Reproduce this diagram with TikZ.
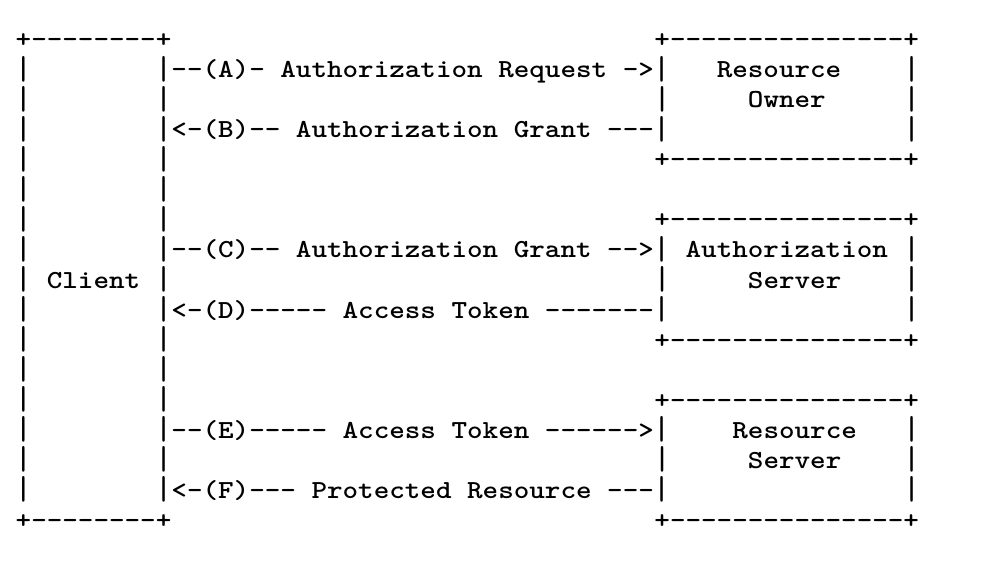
\documentclass[tikz,border=0pt]{standalone}
\usepackage{graphicx}
\usepackage{fontspec}
\newfontfamily\asciimono{lmmonolt10-bold.otf}[FakeStretch=1.14]
\newcommand\vbar{\raisebox{-1.5pt}{\scalebox{1}[1.28]{|}}}
\tikzset{
  seg/.style={anchor=base west, inner sep=0pt, outer sep=0pt,
    font=\asciimono\fontsize{26}{30}\selectfont, text=black}
}
\newcommand\cell[2]{(15.7pt+#1*15.58pt, 512pt-#2*30pt)}
\begin{document}
\begin{tikzpicture}
\useasboundingbox (0,0) rectangle (992pt,560pt);
% row 0
\node[seg] (clienttop) at \cell{0}{0} {+--------+};
\node[seg] (ownertop) at \cell{41}{0} {+---------------+};
% row 1
\node[seg] (cl1) at \cell{0}{1} {\vbar};
\node[seg] (arrowA) at \cell{9}{1} {\vbar--(A)- Authorization Request ->\vbar};
\node[seg] (ownerA) at \cell{45}{1} {Resource};
\node[seg] (or1) at \cell{57}{1} {\vbar};
% row 2
\node[seg] (cl2) at \cell{0}{2} {\vbar};
\node[seg] (cr2) at \cell{9}{2} {\vbar};
\node[seg] (ol2) at \cell{41}{2} {\vbar};
\node[seg] (ownerB) at \cell{47}{2} {Owner};
\node[seg] (or2) at \cell{57}{2} {\vbar};
% row 3
\node[seg] (cl3) at \cell{0}{3} {\vbar};
\node[seg] (arrowB) at \cell{9}{3} {\vbar<-(B)-- Authorization Grant ---\vbar};
\node[seg] (or3) at \cell{57}{3} {\vbar};
% row 4
\node[seg] (cl4) at \cell{0}{4} {\vbar};
\node[seg] (cr4) at \cell{9}{4} {\vbar};
\node[seg] (ownerbot) at \cell{41}{4} {+---------------+};
% row 5
\node[seg] (cl5) at \cell{0}{5} {\vbar};
\node[seg] (cr5) at \cell{9}{5} {\vbar};
% row 6
\node[seg] (cl6) at \cell{0}{6} {\vbar};
\node[seg] (cr6) at \cell{9}{6} {\vbar};
\node[seg] (authtop) at \cell{41}{6} {+---------------+};
% row 7
\node[seg] (cl7) at \cell{0}{7} {\vbar};
\node[seg] (arrowC) at \cell{9}{7} {\vbar--(C)-- Authorization Grant -->\vbar};
\node[seg] (authA) at \cell{43}{7} {Authorization};
\node[seg] (ar7) at \cell{57}{7} {\vbar};
% row 8
\node[seg] (client) at \cell{0}{8} {\vbar{} Client \vbar};
\node[seg] (al8) at \cell{41}{8} {\vbar};
\node[seg] (authB) at \cell{47}{8} {Server};
\node[seg] (ar8) at \cell{57}{8} {\vbar};
% row 9
\node[seg] (cl9) at \cell{0}{9} {\vbar};
\node[seg] (arrowD) at \cell{9}{9} {\vbar<-(D)----- Access Token -------\vbar};
\node[seg] (ar9) at \cell{57}{9} {\vbar};
% row 10
\node[seg] (cl10) at \cell{0}{10} {\vbar};
\node[seg] (cr10) at \cell{9}{10} {\vbar};
\node[seg] (authbot) at \cell{41}{10} {+---------------+};
% row 11
\node[seg] (cl11) at \cell{0}{11} {\vbar};
\node[seg] (cr11) at \cell{9}{11} {\vbar};
% row 12
\node[seg] (cl12) at \cell{0}{12} {\vbar};
\node[seg] (cr12) at \cell{9}{12} {\vbar};
\node[seg] (restop) at \cell{41}{12} {+---------------+};
% row 13
\node[seg] (cl13) at \cell{0}{13} {\vbar};
\node[seg] (arrowE) at \cell{9}{13} {\vbar--(E)----- Access Token ------>\vbar};
\node[seg] (resA) at \cell{46}{13} {Resource};
\node[seg] (rr13) at \cell{57}{13} {\vbar};
% row 14
\node[seg] (cl14) at \cell{0}{14} {\vbar};
\node[seg] (cr14) at \cell{9}{14} {\vbar};
\node[seg] (rl14) at \cell{41}{14} {\vbar};
\node[seg] (resB) at \cell{47}{14} {Server};
\node[seg] (rr14) at \cell{57}{14} {\vbar};
% row 15
\node[seg] (cl15) at \cell{0}{15} {\vbar};
\node[seg] (arrowF) at \cell{9}{15} {\vbar<-(F)--- Protected Resource ---\vbar};
\node[seg] (rr15) at \cell{57}{15} {\vbar};
% row 16
\node[seg] (clientbot) at \cell{0}{16} {+--------+};
\node[seg] (resbot) at \cell{41}{16} {+---------------+};
\end{tikzpicture}
\end{document}
